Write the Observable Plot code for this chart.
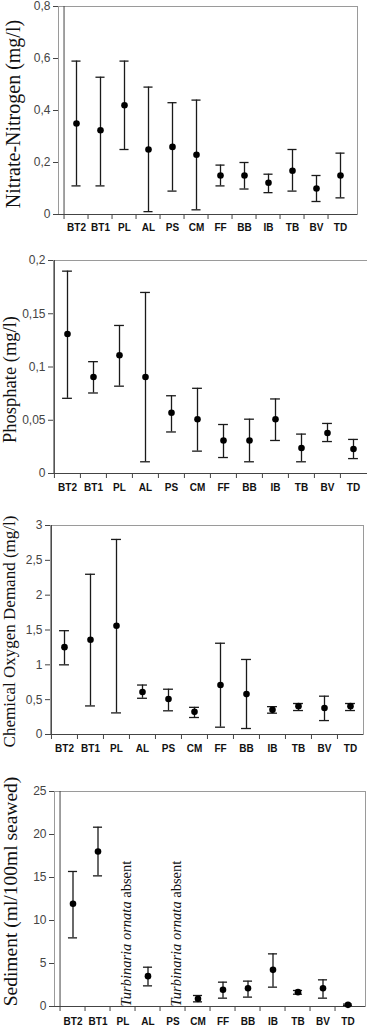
<!DOCTYPE html>
<html><head><meta charset="utf-8">
<script src="https://cdn.jsdelivr.net/npm/d3@7"></script>
<script src="https://cdn.jsdelivr.net/npm/@observablehq/plot@0.6"></script>
<style>
body{margin:0;background:#fff;}
#wrap{position:relative;width:367px;height:1026px;overflow:hidden;background:#fff}
#wrap svg{position:absolute;left:0;}
</style></head><body><div id="wrap"></div><script>
const categories = ["BT2","BT1","PL","AL","PS","CM","FF","BB","IB","TB","BV","TD"];

const nitrateMean = [0.35,0.324,0.42,0.25,0.26,0.23,0.15,0.15,0.122,0.168,0.10,0.15];
const nitrateLow  = [0.11,0.11,0.25,0.011,0.09,0.018,0.11,0.098,0.084,0.09,0.05,0.064];
const nitrateHigh = [0.59,0.528,0.59,0.49,0.43,0.44,0.19,0.20,0.155,0.25,0.15,0.236];
const nitrateTicks = [0,0.2,0.4,0.6,0.8];

const phosphateMean = [0.131,0.0906,0.111,0.0906,0.057,0.051,0.031,0.031,0.051,0.024,0.038,0.023];
const phosphateLow  = [0.0706,0.0756,0.082,0.011,0.039,0.021,0.015,0.011,0.031,0.011,0.030,0.014];
const phosphateHigh = [0.19,0.105,0.139,0.17,0.073,0.08,0.046,0.051,0.07,0.037,0.047,0.032];
const phosphateTicks = [0,0.05,0.1,0.15,0.2];

const codMean = [1.254,1.36,1.56,0.61,0.51,0.325,0.71,0.58,0.354,0.407,0.38,0.407];
const codLow  = [1.0,0.41,0.31,0.52,0.34,0.244,0.105,0.086,0.306,0.344,0.2,0.344];
const codHigh = [1.49,2.30,2.8,0.71,0.65,0.39,1.31,1.077,0.40,0.445,0.55,0.445];
const codTicks = [0,0.5,1,1.5,2,2.5,3];

const sedimentMean = [11.94,18.02,null,3.53,null,0.89,1.94,2.13,4.26,1.67,2.13,0.19];
const sedimentLow  = [7.98,15.19,null,2.4,null,0.54,0.97,1.09,2.25,1.43,0.97,0.1];
const sedimentHigh = [15.7,20.85,null,4.57,null,1.28,2.83,2.95,6.12,1.86,3.1,0.28];
const sedimentTicks = [0,5,10,15,20,25];
const absentNote = "Turbinaria ornata absent";

const panels = [
  {top:0, height:244, mt:6, mb:30, ml:58, mr:10, domain:[0,0.8], ticks:nitrateTicks,
   label:"Nitrate-Nitrogen (mg/l)", labelSize:20, labelX:6, labelShift:4,
   mean:nitrateMean, low:nitrateLow, high:nitrateHigh, xpad:9},
  {top:248, height:253, mt:12, mb:28, ml:53, mr:0, domain:[0,0.2], ticks:phosphateTicks,
   label:"Phosphate (mg/l)", labelSize:18.5, labelX:3, labelShift:13,
   mean:phosphateMean, low:phosphateLow, high:phosphateHigh, xpad:10},
  {top:510, height:250, mt:15, mb:26, ml:50, mr:4, domain:[0,3], ticks:codTicks,
   label:"Chemical Oxygen Demand (mg/l)", labelSize:17, labelX:3, labelShift:2,
   mean:codMean, low:codLow, high:codHigh, xpad:10},
  {top:760, height:266, mt:31, mb:20, ml:54, mr:2, domain:[0,25], ticks:sedimentTicks,
   label:"Sediment (ml/100ml seawed)", labelSize:19.5, labelX:3, labelShift:-7,
   mean:sedimentMean, low:sedimentLow, high:sedimentHigh, xpad:11, absent:true}
];

const fmt = d => String(d).replace(".", ",");
const wrap = document.getElementById("wrap");

for (const p of panels) {
  const W = 367;
  const bw = (W - p.ml - p.mr) / categories.length;
  const plotH = p.height - p.mt - p.mb;
  const rows = categories.map((c, i) => ({site:c, mean:p.mean[i], low:p.low[i], high:p.high[i]}))
    .filter(d => d.mean != null);
  const marks = [
    Plot.frame({stroke:"#9a9a9a"}),
    Plot.ruleX(categories, {x:d=>d, dx:-bw/2, insetTop:plotH, insetBottom:-5, stroke:"#444"}),
    Plot.axisX({tickSize:0, tickPadding:p.xpad, fontWeight:"bold", fontSize:10, fill:"#111", label:null}),
    Plot.axisY({ticks:p.ticks, tickFormat:fmt, tickSize:5, tickPadding:3, fontSize:12, color:"#444", label:null}),
    Plot.ruleY([p.domain[0]], {stroke:"#444"}),
    Plot.ruleX([categories[0]], {x:d=>d, dx:-bw/2, stroke:"#444"}),
    Plot.ruleX(rows, {x:"site", y1:"low", y2:"high", stroke:"#1a1a1a", strokeWidth:1.3}),
    Plot.tickY(rows, {x:"site", y:"low", insetLeft:(bw-10)/2, insetRight:(bw-10)/2, stroke:"#1a1a1a", strokeWidth:1.3}),
    Plot.tickY(rows, {x:"site", y:"high", insetLeft:(bw-10)/2, insetRight:(bw-10)/2, stroke:"#1a1a1a", strokeWidth:1.3}),
    Plot.dot(rows, {x:"site", y:"mean", r:3.3, fill:"#000"})
  ];
  if (p.absent) {
    const absentSites = categories.filter((c, i) => p.mean[i] == null);
    marks.push(Plot.text(absentSites, {x:d=>d, y:0, text:()=>absentNote, rotate:-90, textAnchor:"start",
      dx:3, fontSize:14.5, fill:"#111", fontFamily:"Liberation Serif, Times New Roman, serif"}));
  }
  const svg = Plot.plot({
    width:W, height:p.height,
    marginTop:p.mt, marginBottom:p.mb, marginLeft:p.ml, marginRight:p.mr,
    style:{fontFamily:"Liberation Sans, Arial, sans-serif", fontSize:"12px", background:"transparent", overflow:"visible"},
    x:{type:"band", domain:categories, padding:0},
    y:{domain:p.domain},
    marks
  });
  svg.style.top = p.top + "px";
  // y-axis title, rotated, in serif
  const cy = p.mt + plotH / 2 + p.labelShift;
  d3.select(svg).append("text")
    .attr("transform", `translate(${p.labelX},${cy}) rotate(-90)`)
    .attr("text-anchor", "middle").attr("dominant-baseline", "hanging")
    .attr("font-family", "Liberation Serif, Times New Roman, serif")
    .attr("font-size", p.labelSize).attr("fill", "#111")
    .text(p.label);
  d3.select(svg).selectAll('g[aria-label="text"] text').each(function(){
    const t = d3.select(this);
    const full = this.textContent;
    const idx = full.lastIndexOf(" ");
    t.text(null);
    t.append("tspan").attr("font-style","italic").text(full.slice(0, idx));
    t.append("tspan").text(full.slice(idx));
  });
  wrap.appendChild(svg);
}
</script></body></html>
